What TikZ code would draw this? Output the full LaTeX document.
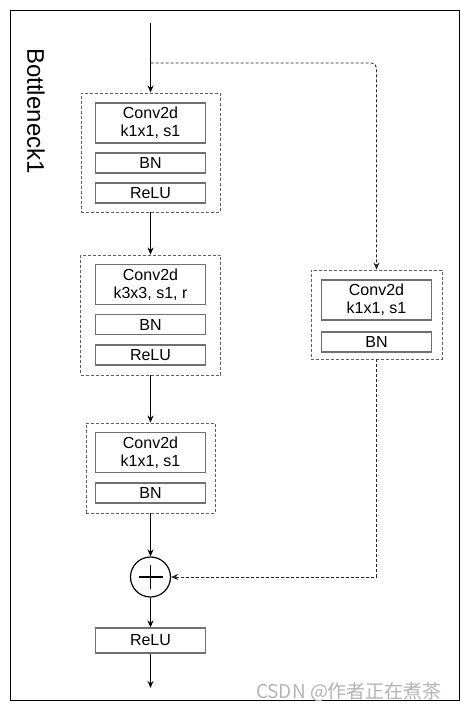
\documentclass[tikz,border=0pt]{standalone}
\usepackage{fontspec}
\setmainfont{Liberation Sans}
\newfontfamily\cjk{Noto Sans CJK SC}
\usetikzlibrary{arrows.meta,calc}
\definecolor{boxgray}{HTML}{707070}
\definecolor{dashgray}{HTML}{606060}
\definecolor{wmgray}{HTML}{B4B4B4}
\tikzset{
  layer/.style={draw=boxgray,line width=1.2pt,minimum width=110pt,inner sep=0pt,align=center,font=\fontsize{16}{18}\selectfont},
  convbox/.style={layer,minimum height=40pt},
  thinbox/.style={layer,minimum height=20pt},
  group/.style={draw=dashgray,dashed,dash pattern=on 3pt off 2pt,line width=0.9pt,inner sep=0pt},
  flow/.style={draw=black,line width=1pt,-{Stealth[length=7pt,width=6pt]}},
  skip/.style={draw=black!85,line width=0.9pt,dash pattern=on 3pt off 2pt,-{Stealth[length=7pt,width=6pt]}},
}
\begin{document}
\begin{tikzpicture}[x=1pt,y=-1pt]
\useasboundingbox (0,0) rectangle (461,713);
\draw[line width=0.9pt] (10.5,10.5) rectangle (459,700.5);
\node[rotate=-90,font=\fontsize{24}{28}\selectfont] (title) at (36,111) {Bottleneck1};
% group 1
\node[group,minimum width=139pt,minimum height=119pt] (g1) at (150.5,152.5) {};
\node[convbox] (c1) at (150.5,123) {Conv2d\\k1x1, s1};
\node[thinbox] (b1) at (150.5,163) {BN};
\node[thinbox] (r1) at (150.5,193) {ReLU};
% group 2
\node[group,minimum width=140pt,minimum height=120pt] (g2) at (150.5,315) {};
\node[convbox] (c2) at (150.5,284.5) {Conv2d\\k3x3, s1, r};
\node[thinbox] (b2) at (150.5,324.5) {BN};
\node[thinbox] (r2) at (150.5,355) {ReLU};
% group 3
\node[group,minimum width=129pt,minimum height=90pt] (g3) at (150.5,468) {};
\node[convbox] (c3) at (150.5,452.5) {Conv2d\\k1x1, s1};
\node[thinbox] (b3) at (150.5,493) {BN};
% group 4 (shortcut)
\node[group,minimum width=131pt,minimum height=89pt] (g4) at (376.5,314.5) {};
\node[convbox] (c4) at (376.5,300) {Conv2d\\k1x1, s1};
\node[thinbox] (b4) at (376.5,342) {BN};
% add and final relu
\node[draw=black,line width=1.2pt,circle,minimum size=40pt,inner sep=0pt] (add) at (150.5,577) {};
\draw[line width=1.2pt] ($(add.center)+(-12,0)$) -- ($(add.center)+(12,0)$)
  ($(add.center)+(0,-12)$) -- ($(add.center)+(0,12)$);
\node[layer,minimum height=25pt] (rf) at (150.5,640.5) {ReLU};
\coordinate (in) at (150.5,23);
\coordinate (out) at (150.5,688);
\coordinate (split) at (150.5,63);
% connectors
\draw[flow] (in) -- (g1.north);
\draw[flow] (g1.south) -- (g2.north);
\draw[flow] (g2.south) -- (g3.north);
\draw[flow] (g3.south) -- (add.north);
\draw[flow] (add.south) -- (rf.north);
\draw[flow] (rf.south) -- (out);
\draw[skip,rounded corners=5pt] (split) -- (g4.north |- split) -- (g4.north);
\draw[skip] (g4.south) |- (add.east);
\node[font=\cjk\fontsize{19}{21}\selectfont,text=wmgray,inner sep=0pt] (wm) at (349,692) {CSDN @作者正在煮茶};
\end{tikzpicture}
\end{document}
